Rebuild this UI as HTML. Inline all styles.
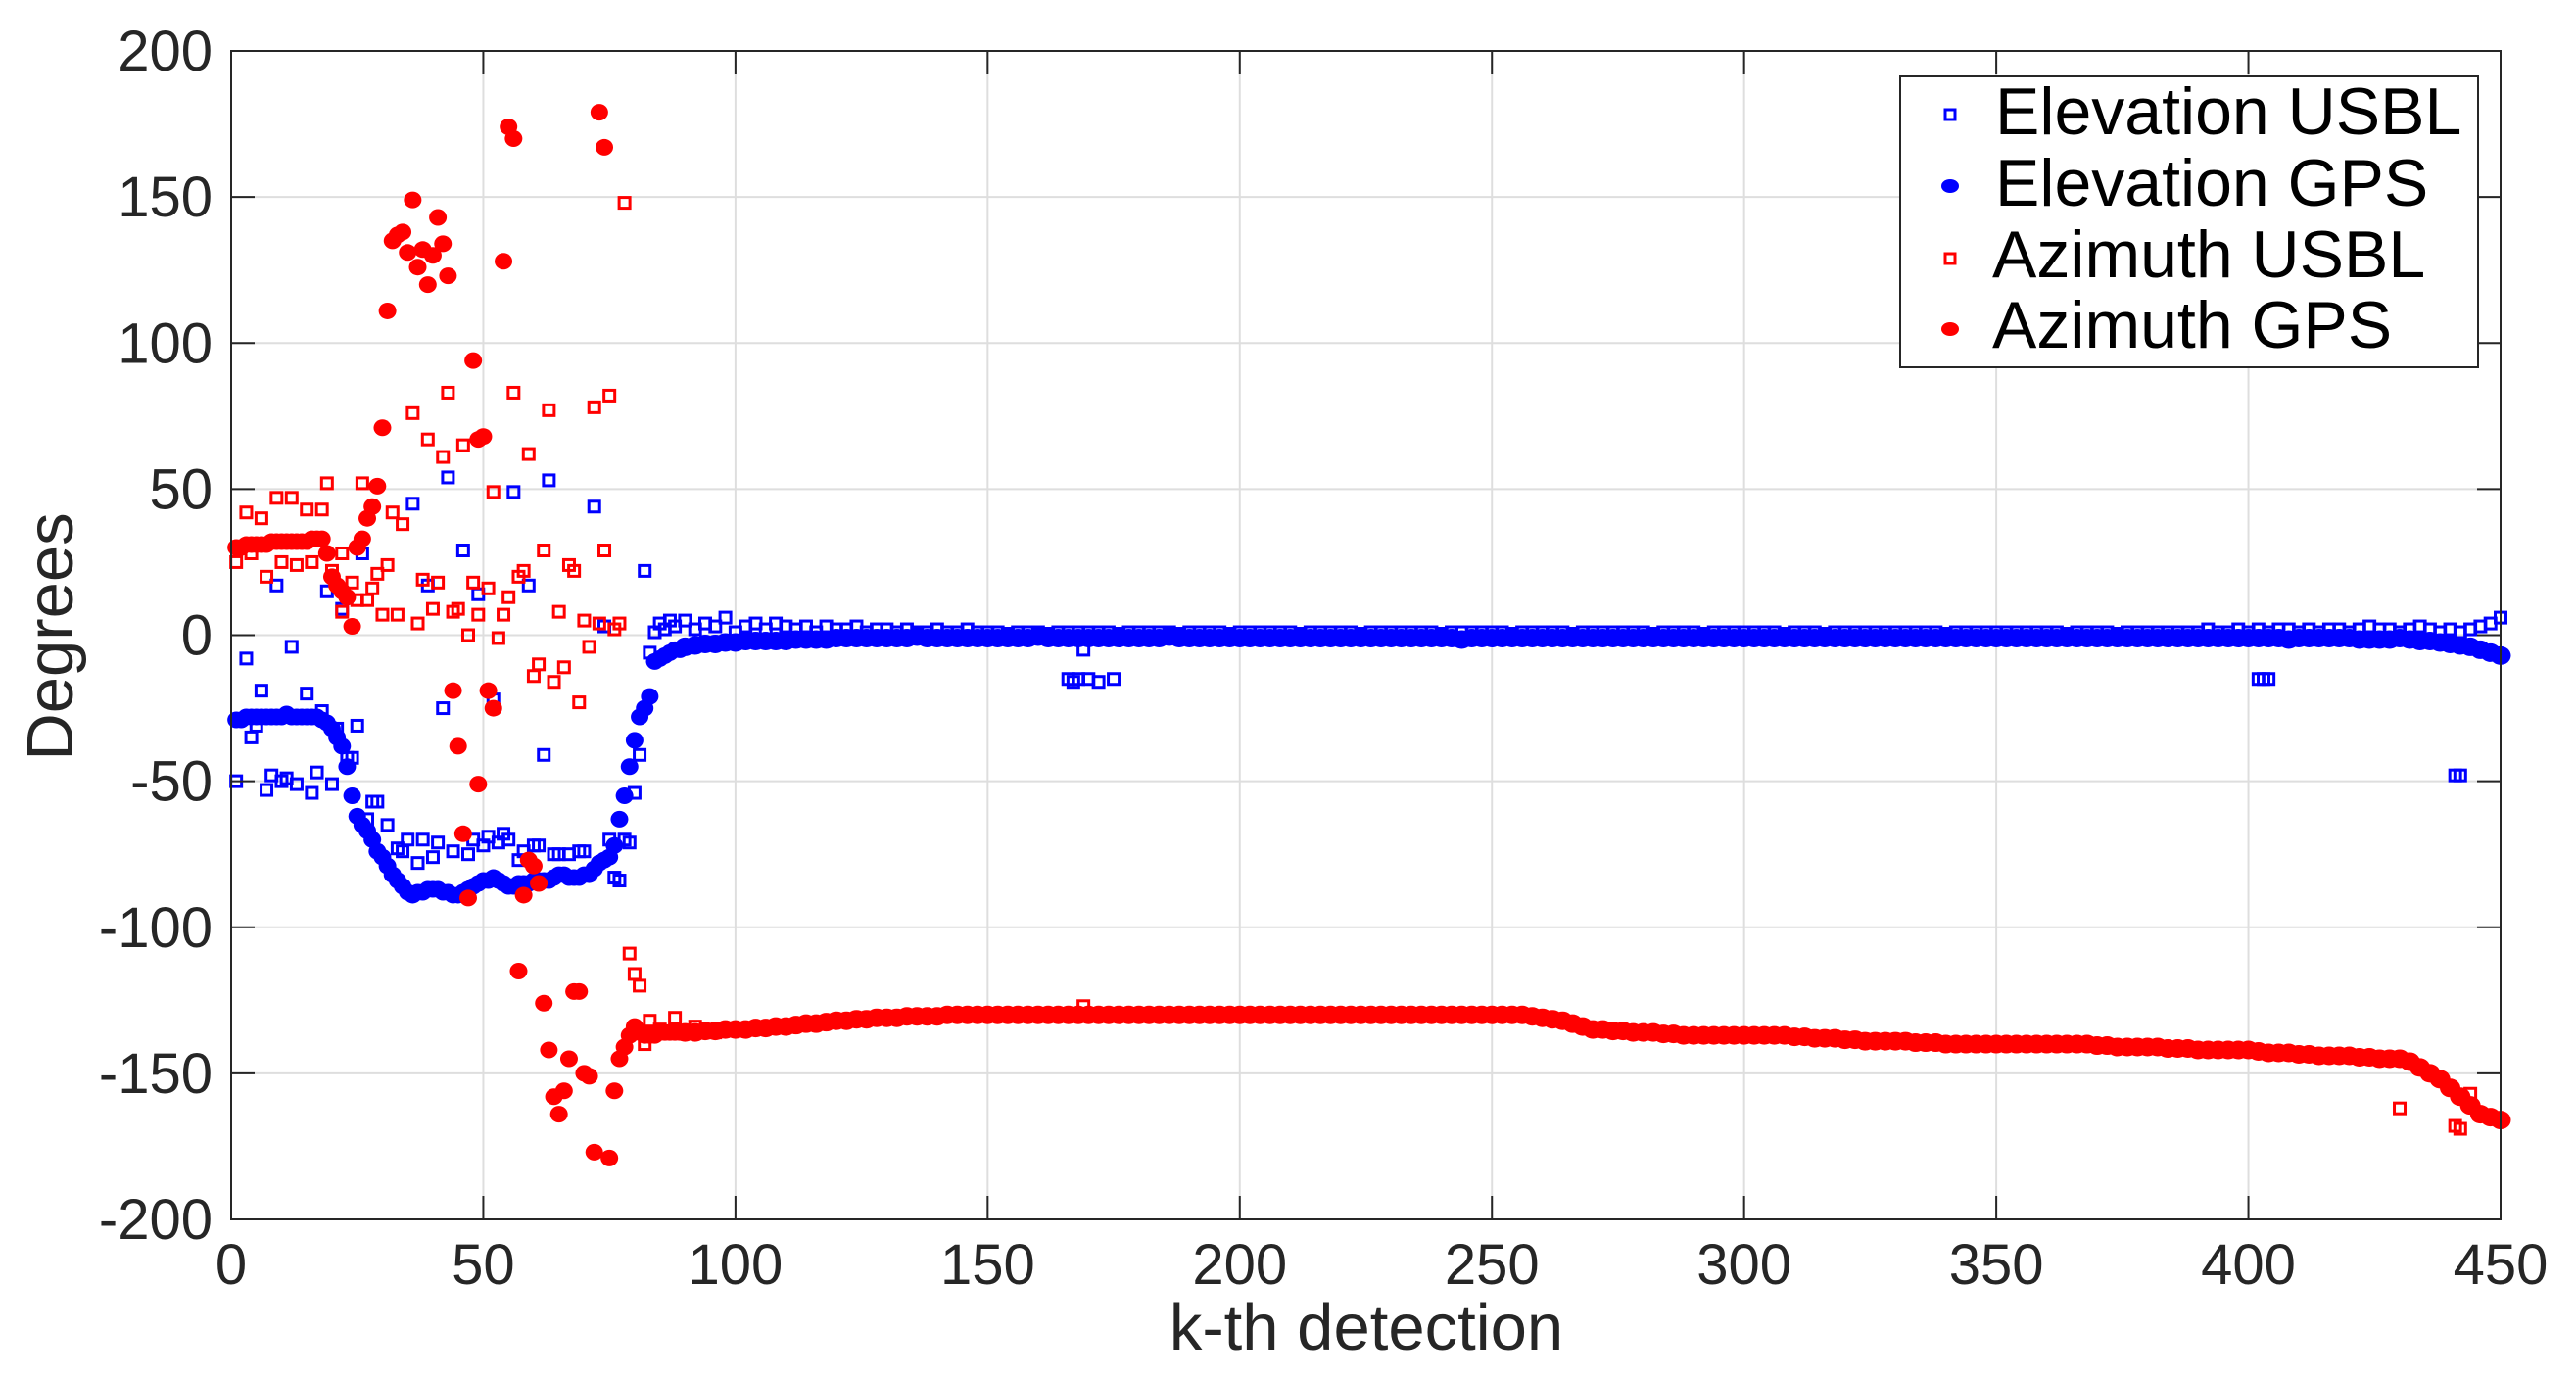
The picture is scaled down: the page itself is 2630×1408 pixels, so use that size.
<!DOCTYPE html>
<html><head><meta charset="utf-8"><style>
html,body{margin:0;padding:0;background:#fff}
svg{display:block}
text{font-family:"Liberation Sans",Arial,sans-serif;fill:#262626}
</style></head><body>
<svg id="chart" width="2630" height="1408" viewBox="0 0 2630 1408" xmlns="http://www.w3.org/2000/svg">
<rect x="0" y="0" width="2630" height="1408" fill="#fff"/>
<g id="grid"></g>
<g id="plot"></g>
<g id="axes"></g>
<text x="1395" y="1378" font-size="67" text-anchor="middle">k-th detection</text>
<text transform="translate(74,650) rotate(-90)" font-size="67" text-anchor="middle">Degrees</text>
<g>
<rect x="1940" y="78" width="590" height="297" fill="#fff" stroke="#262626" stroke-width="2"/>
<g><rect x="1986" y="112" width="10" height="10" fill="none" stroke="#0000ff" stroke-width="3"/><text x="2037" y="137" font-size="68" style="fill:#000">Elevation USBL</text></g>
<g><ellipse cx="1991" cy="190" rx="9" ry="7" fill="#0000ff"/><text x="2037" y="210" font-size="68" style="fill:#000">Elevation GPS</text></g>
<g><rect x="1986" y="259" width="10" height="10" fill="none" stroke="#ff0000" stroke-width="3"/><text x="2034" y="283" font-size="68" style="fill:#000">Azimuth USBL</text></g>
<g><ellipse cx="1991" cy="336" rx="9" ry="7" fill="#ff0000"/><text x="2034" y="355" font-size="68" style="fill:#000">Azimuth GPS</text></g>
</g>
</svg>
<script>
const xTicks = [0,50,100,150,200,250,300,350,400,450];
const yTicks = [200,150,100,50,0,-50,-100,-150,-200];
const xTickLabels = ["0","50","100","150","200","250","300","350","400","450"];
const yTickLabels = ["200","150","100","50","0","-50","-100","-150","-200"];

const elevGpsEarly = [-29,-29,-28,-28,-28,-28,-28,-28,-28,-28,-27,-28,-28,-28,-28,-28,-28,-29,-30,-32,-35,-38,-45,-55,-62,-65,-67,-70,-74,-76,-79,-82,-84,-86,-88,-89,-88,-88,-87,-87,-87,-88,-88,-89,-89,-88,-87,-86,-85,-84,-84,-83,-84,-85,-86,-86,-85,-85,-85,-84,-84,-84,-84,-83,-82,-82,-83,-83,-83,-82,-82,-80,-78,-77,-76,-72,-63,-55,-45,-36,-28,-25,-21,-9,-8,-7,-6,-5,-5];
const elevGpsLate = [-4,-3.5,-3,-3,-2.5,-2.5,-2,-2,-2,-2,
-2,-1.5,-1.5,-1.5,-1.5,-1,-1,-1,-1,-1,
-1,-1,-1,-0.5,-1,-1,-1,-1,-1,-1,
-1,-1,-1,-1,-1,-0.5,-1,-1,-1,-1,
-1,-1,-1,-1,-1,-1,-1,-1,-0.5,-1,
-1,-1,-1,-1,-1,-1,-1,-1,-1,-1,
-1,-1,-1,-1,-1,-1,-1,-1,-1,-1,
-1,-1,-1,-1,-1,-1,-1,-1.5,-1,-1,
-1,-1,-1,-1,-1,-1,-1,-1,-1,-1,
-1,-1,-1,-1,-1,-1,-1,-1,-1,-1,
-1,-1,-1,-1,-1,-1,-1,-1,-1,-1,
-1,-1,-1,-1,-1,-1,-1,-1,-1,-1,
-1,-1,-1,-1,-1,-1,-1,-1,-1,-1,
-1,-1,-1,-1,-1,-1,-1,-1,-1,-1,
-1,-1,-1,-1,-1,-1,-1,-1,-1,-1,
-1,-1,-1,-1,-1,-1,-1,-1,-1,-1.5,
-1,-1,-1,-1,-1,-1,-1.5,-1.5,-1.5,-1.5,
-1,-1.5,-2,-2,-2.5,-3,-3.5,-4,-5,-6,
-7];
const elevUsblLate = [5,2,4,3,6,1,3,4,2,4,
3,2,3,1,3,2,2,3,1,2,
2,1,2,1,1,2,1,1,2,1,
1,1,0.5,1,1,1,0.5,1,1,1,
1,1,1,0.5,1,1,1,1,1,0.5,
1,1,1,1,0.5,1,1,1,1,1,
1,0.5,1,1,1,1,1,0.5,1,1,
1,1,1,1,1,0.5,1,1,1,1,
1,1,0.5,1,1,1,1,1,0.5,1,
1,1,1,1,1,1,0.5,1,1,1,
1,0.5,1,1,1,1,1,1,1,0.5,
1,1,1,0.5,1,1,1,1,1,1,
1,1,1,1,1,0.5,1,1,1,1,
1,1,1,1,1,1,1,0.5,1,1,
1,1,0.5,1,1,1,1,1,1,1,
1,2,1,1,2,1,2,1,2,2,
1,2,1,2,2,1,2,3,2,2,
1,2,3,2,1,2,1,2,3,4,
6];
const azGpsLate = [-136,-136,-135.5,-135.5,-135,-135,-135,-134.5,-134.5,-134,
-134,-133.5,-133,-133,-132.5,-132,-132,-131.5,-131.5,-131,
-131,-131,-130.5,-130.5,-130.5,-130.5,-130,-130,-130,-130,
-130,-130,-130,-130,-130,-130,-130,-130,-130,-130,
-130,-130,-130,-130,-130,-130,-130,-130,-130,-130,
-130,-130,-130,-130,-130,-130,-130,-130,-130,-130,
-130,-130,-130,-130,-130,-130,-130,-130,-130,-130,
-130,-130,-130,-130,-130,-130,-130,-130,-130,-130,
-130,-130,-130,-130,-130.5,-131,-131.5,-132,-133,-134,
-135,-135,-135.5,-135.5,-136,-136,-136,-136.5,-136.5,-137,
-137,-137,-137,-137,-137,-137,-137,-137,-137,-137,
-137.5,-137.5,-138,-138,-138,-138.5,-138.5,-139,-139,-139,
-139,-139,-139.5,-139.5,-139.5,-140,-140,-140,-140,-140,
-140,-140,-140,-140,-140,-140,-140,-140,-140,-140,
-140.5,-140.5,-141,-141,-141,-141,-141,-141.5,-141.5,-141.5,
-142,-142,-142,-142,-142,-142,-142.5,-143,-143,-143,
-143.5,-143.5,-144,-144,-144,-144,-144.5,-144.5,-145,-145,
-145,-146,-148,-150,-152,-155,-158,-161,-164,-165,
-166];

const elevUsblK = [1,3,4,5,6,7,8,9,10,11,12,13,15,16,17,18,19,20,21,22,23,24,25,26,27,28,29,31,33,34,35,36,37,38,39,40,41,42,43,44,46,47,48,49,50,51,52,53,54,55,56,57,58,59,60,61,62,63,64,65,67,69,70,72,74,75,76,77,78,79,80,81,82,83,84,85,86,87,88,166,167,168,169,170,172,175,402,403,404,441,442];
const elevUsblV = [-50,-8,-35,-31,-19,-53,-48,17,-50,-49,-4,-51,-20,-54,-47,-26,15,-51,-32,9,-42,-42,-31,28,-63,-57,-57,-65,-73,-74,-70,45,-78,-70,17,-76,-71,-25,54,-74,29,-75,-70,14,-72,-69,-22,-71,-68,-70,49,-77,-74,17,-72,-72,-41,53,-75,-75,-75,-74,-74,44,3,-70,-83,-84,-70,-71,-54,-41,22,-6,1,4,2,5,3,-15,-16,-15,-5,-15,-16,-15,-15,-15,-15,-48,-48];

const azUsblK = [1,3,4,6,7,9,10,12,13,15,16,18,19,20,22,22,24,25,26,27,28,29,30,31,32,33,34,36,37,38,39,40,41,42,43,44,45,46,47,48,49,51,52,53,54,55,56,57,58,59,60,61,62,63,64,65,66,67,68,69,70,71,72,73,74,75,76,77,78,79,80,81,82,83,85,88,92,96,169,430,441,442,444];
const azUsblV = [25,42,28,40,20,47,25,47,24,43,25,43,52,22,28,8,18,12,52,12,16,21,7,24,42,7,38,76,4,19,67,9,18,61,83,8,9,65,0,18,7,16,49,-1,7,13,83,20,22,62,-14,-10,29,77,-16,8,-11,24,22,-23,5,-4,78,4,29,82,2,4,148,-109,-116,-120,-140,-132,-135,-131,-134,-136,-127,-162,-168,-169,-157];

const azGpsK = [1,2,3,4,5,6,7,8,9,10,11,12,13,14,15,16,17,18,19,20,21,22,23,24,25,26,27,28,29,30,31,32,33,34,35,36,37,38,39,40,41,42,43,44,45,46,47,48,49,49,50,51,52,54,55,56,57,58,59,60,61,62,63,64,65,66,67,68,69,70,71,72,73,74,75,76,77,78,79,80,81,82,83,84,85,86,87,88,89];
const azGpsV = [30,30,31,31,31,31,31,32,32,32,32,32,32,32,32,33,33,33,28,20,17,15,13,3,30,33,40,44,51,71,111,135,137,138,131,149,126,132,120,130,143,134,123,-19,-38,-68,-90,94,67,-51,68,-19,-25,128,174,170,-115,-89,-77,-79,-85,-126,-142,-158,-164,-156,-145,-122,-122,-150,-151,-177,179,167,-179,-156,-145,-141,-137,-134,-136,-137,-137,-137,-136,-136,-136,-136,-136];

const L=236, R=2553, T=52, B=1245;
const xMin=0, xMax=450, yMin=-200, yMax=200;
const xs = v => L + (v - xMin) / (xMax - xMin) * (R - L);
const ys = v => B - (v - yMin) / (yMax - yMin) * (B - T);
const NS = "http://www.w3.org/2000/svg";
function mk(tag, attrs, parent){
  const e = document.createElementNS(NS, tag);
  for (const k in attrs) e.setAttribute(k, attrs[k]);
  parent.appendChild(e);
  return e;
}
const grid = document.getElementById('grid');
const axes = document.getElementById('axes');
const plot = document.getElementById('plot');

xTicks.forEach((t,i)=>{
  const x = xs(t);
  if (i>0 && i<xTicks.length-1){
    const g = mk('line',{x1:x,x2:x,y1:T,y2:B,stroke:'#dedede','stroke-width':2},grid);
    
    
  }
  const tk = mk('line',{x1:x,x2:x,y1:B,y2:B-24,stroke:'#262626','stroke-width':2},axes);
  
  
  const tk2 = mk('line',{x1:x,x2:x,y1:T,y2:T+24,stroke:'#262626','stroke-width':2},axes);
  
  
  const lb = mk('text',{x:x,y:1311,'font-size':58,'text-anchor':'middle'},axes);
  lb.textContent = xTickLabels[i];
  
  
});
yTicks.forEach((t,i)=>{
  const y = ys(t);
  if (i>0 && i<yTicks.length-1){
    const g = mk('line',{x1:L,x2:R,y1:y,y2:y,stroke:'#dedede','stroke-width':2},grid);
    
    
  }
  const tk = mk('line',{x1:L,x2:L+24,y1:y,y2:y,stroke:'#262626','stroke-width':2},axes);
  
  
  const tk2 = mk('line',{x1:R,x2:R-24,y1:y,y2:y,stroke:'#262626','stroke-width':2},axes);
  
  
  const lb = mk('text',{x:217,y:y+20,'font-size':58,'text-anchor':'end'},axes);
  lb.textContent = yTickLabels[i];
  
  
});
const frame = mk('rect',{x:L,y:T,width:R-L,height:B-T,fill:'none',stroke:'#262626','stroke-width':2},axes);



function squares(ks, vs, color, name){
  const g = mk('g',{},plot);
  
  
  ks.forEach((k,i)=>{
    const s = mk('rect',{x:xs(k)-5.5,y:ys(vs[i])-5.5,width:11,height:11,fill:'none',stroke:color,'stroke-width':3},g);
    
    
  });
}
function dots(ks, vs, color, name, rx, ry){
  const g = mk('g',{},plot);
  
  
  ks.forEach((k,i)=>{
    const c = mk('ellipse',{cx:xs(k),cy:ys(vs[i]),rx:rx,ry:ry,fill:color},g);
    
    
  });
}
const earlyK = elevGpsEarly.map((_,i)=>i+1);
const lateK = elevGpsLate.map((_,i)=>90+2*i);

squares(elevUsblK, elevUsblV, '#0000ff', 'elevation-usbl-series');
squares(lateK, elevUsblLate, '#0000ff', 'elevation-usbl-series-late');
dots(earlyK, elevGpsEarly, '#0000ff', 'elevation-gps-series', 9, 8.5);
dots(lateK, elevGpsLate, '#0000ff', 'elevation-gps-series-late', 10.5, 9.5);
squares(azUsblK, azUsblV, '#ff0000', 'azimuth-usbl-series');
dots(azGpsK, azGpsV, '#ff0000', 'azimuth-gps-series', 9, 8.5);
dots(lateK, azGpsLate, '#ff0000', 'azimuth-gps-series-late', 10.5, 9.5);
</script>
</body></html>
